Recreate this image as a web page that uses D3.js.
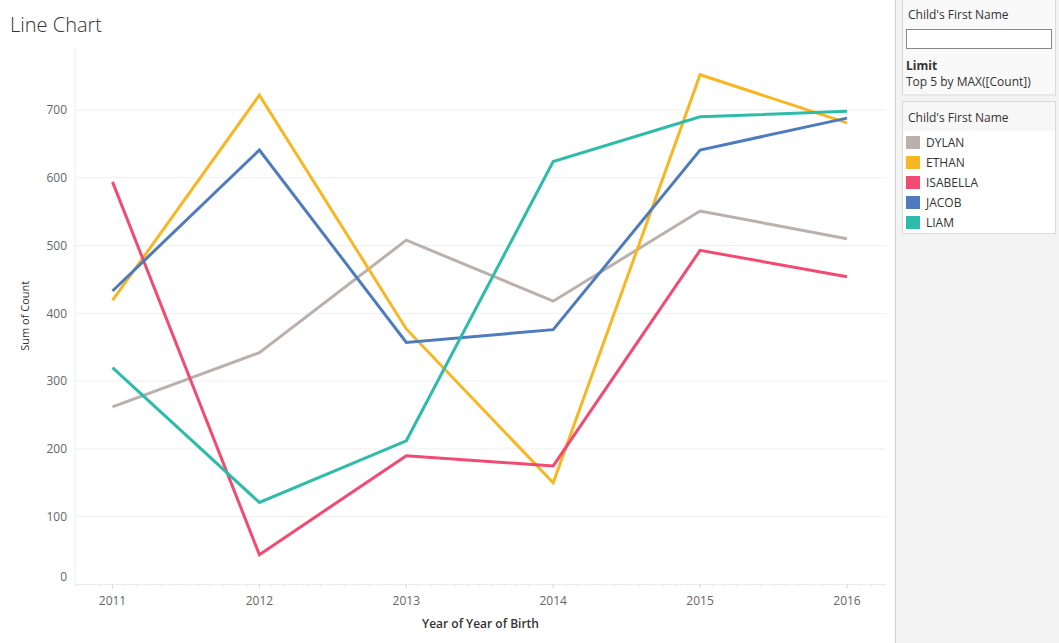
<!DOCTYPE html>
<html>
<head>
<meta charset="utf-8">
<script src="https://cdn.jsdelivr.net/npm/d3@7"></script>
<style>
  body { margin: 0; background: #fff; font-family: "Open Sans", "Noto Sans", sans-serif; }
  svg { display: block; }
</style>
</head>
<body>
<svg id="chart" width="1059" height="643"></svg>
<script>
"use strict";

// data
var years = [2011, 2012, 2013, 2014, 2015, 2016];
var names = ["DYLAN", "ETHAN", "ISABELLA", "JACOB", "LIAM"];
var colors = ["#bab0ac", "#f8b623", "#f34a72", "#4e7bbd", "#2ebcaa"];
var dylan = [262, 342, 508, 418, 551, 510];
var ethan = [419, 722, 377, 150, 752, 681];
var isabella = [594, 44, 190, 175, 493, 454];
var jacob = [433, 641, 357, 376, 641, 688];
var liam = [320, 121, 212, 624, 690, 698];
var yTicks = [0, 100, 200, 300, 400, 500, 600, 700];

var series = [dylan, ethan, isabella, jacob, liam];

var svg = d3.select("#chart");

var x = d3.scaleLinear().domain([2011, 2016]).range([112.5, 847]);
var y = d3.scaleLinear().domain([0, 700]).range([584.5, 110]);
var plotLeft = 75, plotRight = 886, plotTop = 47, plotBottom = 584.5;

// title
svg.append("text")
  .attr("x", 10).attr("y", 32)
  .attr("font-size", 20).attr("fill", "#333")
  .attr("font-weight", 300)
  .text("Line Chart");

// gridlines
svg.append("g").selectAll("line")
  .data(yTicks.filter(function (d) { return d > 0; }))
  .enter().append("line")
    .attr("x1", plotLeft).attr("x2", plotRight)
    .attr("y1", function (d) { return y(d); })
    .attr("y2", function (d) { return y(d); })
    .attr("stroke", "#efefef").attr("stroke-width", 1);

// axis lines
svg.append("line")
  .attr("x1", plotLeft).attr("x2", plotLeft)
  .attr("y1", plotTop).attr("y2", plotBottom)
  .attr("stroke", "#ececec");
svg.append("line")
  .attr("x1", plotLeft).attr("x2", plotRight)
  .attr("y1", plotBottom).attr("y2", plotBottom)
  .attr("stroke", "#ececec");

// y tick labels
svg.append("g").selectAll("text")
  .data(yTicks).enter().append("text")
    .attr("x", 67)
    .attr("y", function (d) { return (d === 0 ? y(d) - 8 : y(d)); })
    .attr("dy", "0.35em")
    .attr("text-anchor", "end")
    .attr("font-size", 12).attr("fill", "#666")
    .text(function (d) { return d; });

// x ticks: monthly minor, yearly major
var monthTicks = d3.range(2010.75, 2016.3, 1 / 12);
svg.append("g").selectAll("line")
  .data(monthTicks).enter().append("line")
    .attr("x1", function (d) { return x(d); })
    .attr("x2", function (d) { return x(d); })
    .attr("y1", plotBottom).attr("y2", plotBottom + 2)
    .attr("stroke", "#e4e4e4");
svg.append("g").selectAll("line")
  .data(years).enter().append("line")
    .attr("x1", function (d) { return x(d); })
    .attr("x2", function (d) { return x(d); })
    .attr("y1", plotBottom).attr("y2", plotBottom + 4)
    .attr("stroke", "#d8d8d8");
svg.append("g").selectAll("text")
  .data(years).enter().append("text")
    .attr("x", function (d) { return x(d); })
    .attr("y", 605)
    .attr("text-anchor", "middle")
    .attr("font-size", 12).attr("fill", "#666")
    .text(function (d) { return d; });

// axis titles
svg.append("text")
  .attr("x", (plotLeft + plotRight) / 2).attr("y", 628)
  .attr("text-anchor", "middle")
  .attr("font-size", 12).attr("fill", "#333").attr("font-weight", 600)
  .text("Year of Year of Birth");
svg.append("text")
  .attr("transform", "translate(29," + ((plotTop + plotBottom) / 2) + ") rotate(-90)")
  .attr("text-anchor", "middle")
  .attr("font-size", 11).attr("fill", "#333")
  .text("Sum of Count");

// lines
var line = d3.line()
  .x(function (d, i) { return x(years[i]); })
  .y(function (d) { return y(d); });

svg.append("g").selectAll("path")
  .data(series).enter().append("path")
    .attr("d", line)
    .attr("fill", "none")
    .attr("stroke", function (d, i) { return colors[i]; })
    .attr("stroke-width", 3)
    .attr("stroke-linejoin", "miter");

// right-hand panel
var panel = svg.append("g");
panel.append("rect")
  .attr("x", 895).attr("y", 0).attr("width", 164).attr("height", 643)
  .attr("fill", "#f3f3f3");
panel.append("line")
  .attr("x1", 895.5).attr("x2", 895.5).attr("y1", 0).attr("y2", 643)
  .attr("stroke", "#d2d2d2");

// filter card
panel.append("rect")
  .attr("x", 902.5).attr("y", -1).attr("width", 153).attr("height", 96)
  .attr("fill", "#f9f9f9").attr("stroke", "#d9d9d9");
panel.append("text")
  .attr("x", 908).attr("y", 19)
  .attr("font-size", 12).attr("fill", "#333")
  .text("Child's First Name");
panel.append("rect")
  .attr("x", 906.5).attr("y", 29.5).attr("width", 145).attr("height", 19)
  .attr("fill", "#fff").attr("stroke", "#888");
panel.append("text")
  .attr("x", 906).attr("y", 70)
  .attr("font-size", 12).attr("fill", "#333").attr("font-weight", 700)
  .text("Limit");
panel.append("text")
  .attr("x", 906).attr("y", 86)
  .attr("font-size", 12).attr("fill", "#333")
  .text("Top 5 by MAX([Count])");

// legend card
panel.append("rect")
  .attr("x", 902.5).attr("y", 101.5).attr("width", 153).attr("height", 132)
  .attr("fill", "#fff").attr("stroke", "#d9d9d9");
panel.append("rect")
  .attr("x", 903).attr("y", 102).attr("width", 152).attr("height", 29)
  .attr("fill", "#f7f7f7");
panel.append("text")
  .attr("x", 908).attr("y", 122)
  .attr("font-size", 12).attr("fill", "#333")
  .text("Child's First Name");

var item = panel.append("g").selectAll("g")
  .data(names).enter().append("g")
    .attr("transform", function (d, i) { return "translate(906," + (136 + i * 20) + ")"; });
item.append("rect")
  .attr("width", 14).attr("height", 13)
  .attr("fill", function (d, i) { return colors[i]; });
item.append("text")
  .attr("x", 20).attr("y", 11)
  .attr("font-size", 12).attr("fill", "#333")
  .text(function (d) { return d; });
</script>
</body>
</html>
